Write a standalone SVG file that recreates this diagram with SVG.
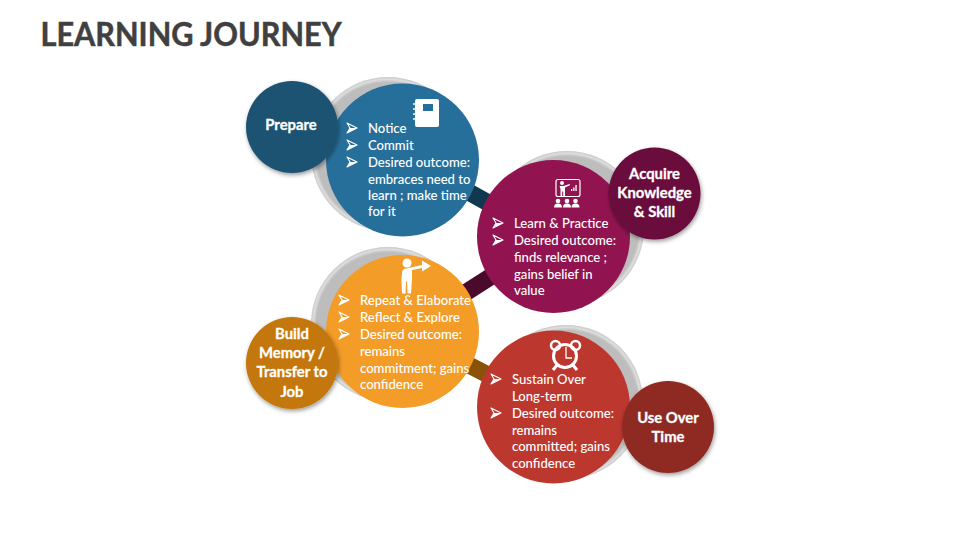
<svg xmlns="http://www.w3.org/2000/svg" width="960" height="540" viewBox="0 0 960 540">
<defs>
<radialGradient id="ring" cx="0.5" cy="0.5" r="0.5"><stop offset="0" stop-color="#bcbcbc"/><stop offset="0.93" stop-color="#bdbdbd"/><stop offset="0.97" stop-color="#dedede"/><stop offset="1" stop-color="#c8c8c8"/></radialGradient>
<filter id="sh" x="-20%" y="-20%" width="140%" height="140%"><feDropShadow dx="1" dy="2" stdDeviation="2" flood-color="#000" flood-opacity="0.4"/></filter>
<g id="tick"><polygon points="0,0 10,5 0,10 3,5" fill="none" stroke="#fff" stroke-width="1.100" stroke-linejoin="round"/><polygon points="0,10 10,5 3,5" fill="#fff"/></g>
</defs>
<style>
text{font-family:"Lato","Carlito","Liberation Sans",sans-serif;fill:#fff}
.t{font-size:13.1px;font-weight:500}
.h{font-size:14.800px;font-weight:700;text-anchor:middle;stroke:#fff;stroke-width:0.300}
.title{font-size:32.500px;font-weight:700;fill:#404040;stroke:#404040;stroke-width:0.500}
.ring{fill:url(#ring)}
</style>
<text class="title" x="40.500" y="45.500" textLength="301" lengthAdjust="spacingAndGlyphs">LEARNING JOURNEY</text>
<g id="connectors" fill="none" stroke-width="17">
<path d="M465 190L492 205" stroke="#10384f"/>
<path d="M462 295L498 272" stroke="#4a0a2c"/>
<path d="M463 362L494 378" stroke="#8a5208"/>
</g>
<g id="node-prepare">
<circle class="ring" cx="388" cy="154" r="77"/>
<circle cx="402.500" cy="160" r="76.500" fill="#276f9b"/>
<g fill="#fff">
<rect x="415" y="99" width="24" height="28" rx="2"/>
<rect x="423" y="104" width="10" height="7" fill="#276f9b"/>
<path d="M413 104h4M413 109h4M413 114h4M413 119h4" stroke="#fff" stroke-width="1.500"/>
</g>
<use href="#tick" x="347" y="123"/><use href="#tick" x="347" y="140"/><use href="#tick" x="347" y="157"/>
<text class="t" x="368" y="133">Notice</text>
<text class="t" x="368" y="150">Commit</text>
<text class="t" x="368" y="167">Desired outcome:</text>
<text class="t" x="368" y="184">embraces need to</text>
<text class="t" x="368" y="200">learn ; make time</text>
<text class="t" x="368" y="216">for it</text>
<circle cx="292" cy="127" r="46" fill="#1d5373" filter="url(#sh)"/>
<text class="h" x="291" y="130">Prepare</text>
</g>
<g id="node-acquire">
<circle class="ring" cx="567" cy="228" r="77"/>
<circle cx="553.500" cy="236.500" r="76.500" fill="#911450"/>
<rect x="556" y="179.500" width="24" height="17" rx="2" fill="none" stroke="#fff" stroke-width="1.200"/>
<g fill="#fff">
<circle cx="562" cy="183" r="2"/>
<path d="M559.500 186h4l6-2 .5 1.200-5 2.300v9h-1.800v-5h-1v5h-1.700v-7.500z"/>
<path d="M571 191h1.300v-2H571zM573.200 191h1.300v-3.500h-1.300zM575.400 191h1.300v-6h-1.300z"/>
<circle cx="558" cy="201" r="2.300"/><circle cx="567" cy="201" r="2.300"/><circle cx="575.500" cy="201" r="2.300"/>
<path d="M554 207.500q0-4 4-4t4 4zM563 207.500q0-4 4-4t4 4zM571.500 207.500q0-4 4-4t4 4z"/>
</g>
<use href="#tick" x="493" y="218"/><use href="#tick" x="493" y="235"/>
<text class="t" x="514" y="228">Learn &amp; Practice</text>
<text class="t" x="514" y="245">Desired outcome:</text>
<text class="t" x="514" y="262">finds relevance ;</text>
<text class="t" x="514" y="279">gains belief in</text>
<text class="t" x="514" y="295">value</text>
<circle cx="654.500" cy="193.500" r="46" fill="#6a0d3d" filter="url(#sh)"/>
<text class="h" x="654.500" y="179">Acquire</text>
<text class="h" x="654.500" y="198">Knowledge</text>
<text class="h" x="654.500" y="217">&amp; Skill</text>
</g>
<g id="node-build">
<circle class="ring" cx="388" cy="324" r="77"/>
<circle cx="402.500" cy="331.500" r="76.500" fill="#f39c27"/>
<g fill="#fff">
<circle cx="407" cy="263" r="4.500"/>
<path d="M402 273q0-4 4-4.500l16-3.500v-4.500l9 5.500-9 5.500v-3.500l-10 2v9l-1 14.500h-3.500l-.5-12h-1l-.5 12H402l-.5-14z"/>
</g>
<use href="#tick" x="339" y="295"/><use href="#tick" x="339" y="312"/><use href="#tick" x="339" y="329"/>
<text class="t" x="360" y="305">Repeat &amp; Elaborate</text>
<text class="t" x="360" y="322">Reflect &amp; Explore</text>
<text class="t" x="360" y="339">Desired outcome:</text>
<text class="t" x="360" y="356">remains</text>
<text class="t" x="360" y="373">commitment; gains</text>
<text class="t" x="360" y="389">confidence</text>
<circle cx="292" cy="363" r="46" fill="#c4770f" filter="url(#sh)"/>
<text class="h" x="292" y="339">Build</text>
<text class="h" x="292" y="358">Memory /</text>
<text class="h" x="292" y="377">Transfer to</text>
<text class="h" x="292" y="397">Job</text>
</g>
<g id="node-use">
<circle class="ring" cx="566" cy="402" r="77"/>
<circle cx="553.500" cy="407" r="76.500" fill="#bc382e"/>
<g fill="none" stroke="#fff">
<circle cx="565" cy="356" r="11.500" stroke-width="3"/>
<path d="M566 347v11h6" stroke-width="1.300"/>
<circle cx="555.500" cy="345.500" r="4.500" stroke-width="2.500"/>
<circle cx="575.500" cy="345.500" r="4.500" stroke-width="2.500"/>
<path d="M557 365l-4 5M573 365l4 5" stroke-width="3"/>
</g>
<use href="#tick" x="491" y="374"/><use href="#tick" x="491" y="408"/>
<text class="t" x="512" y="384">Sustain Over</text>
<text class="t" x="512" y="401">Long-term</text>
<text class="t" x="512" y="418">Desired outcome:</text>
<text class="t" x="512" y="435">remains</text>
<text class="t" x="512" y="451">committed; gains</text>
<text class="t" x="512" y="468">confidence</text>
<circle cx="668" cy="427" r="46" fill="#8e2a22" filter="url(#sh)"/>
<text class="h" x="668" y="423">Use Over</text>
<text class="h" x="668" y="442">Time</text>
</g>
</svg>
